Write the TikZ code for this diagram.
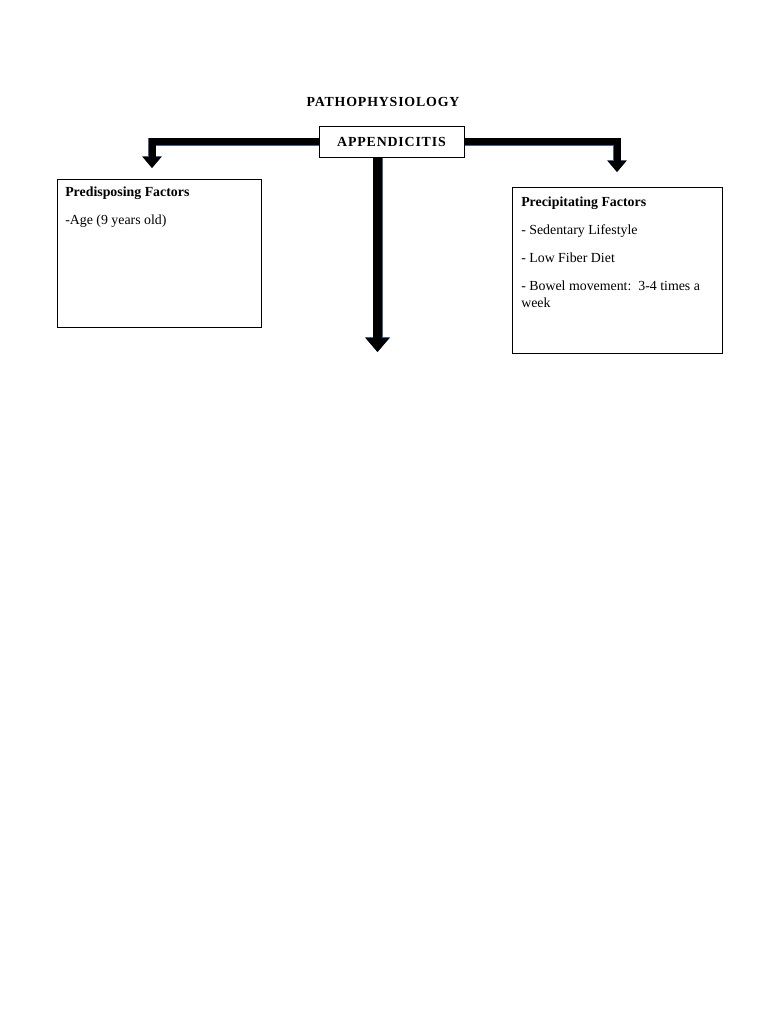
\documentclass[tikz,border=0pt]{standalone}
\usepackage{fontspec}
\setmainfont{Liberation Serif}
\newfontfamily\spacedfont[LetterSpace=6]{Liberation Serif}
\usetikzlibrary{arrows.meta}
\definecolor{edgeblue}{RGB}{70,100,140}

\begin{document}
\begin{tikzpicture}[
x=0.75pt, y=-0.75pt,
font=\fontsize{10.4}{12.75}\selectfont,
title/.style={font=\fontsize{10.4}{12.75}\selectfont\spacedfont\bfseries},
mainbox/.style={draw, line width=0.75pt, rectangle,
minimum width=108.75pt, minimum height=23.25pt, inner sep=0pt,
font=\fontsize{10.4}{12.75}\selectfont\spacedfont\bfseries},
factorbox/.style={draw, line width=0.75pt, rectangle, anchor=north west, inner sep=0pt},
factortext/.style={anchor=north west, inner sep=0pt, align=left},
sidearrow/.style={line width=5.25pt,
-{Triangle[width=14pt, length=8.25pt, line width=0pt]},
preaction={draw=edgeblue, line width=6pt,
-{Triangle[width=15pt, length=9pt, line width=0pt]}}},
downarrow/.style={line width=6.75pt,
-{Triangle[width=18pt, length=10.5pt, line width=0pt]},
preaction={draw=edgeblue, line width=7.5pt,
-{Triangle[width=19pt, length=11.25pt, line width=0pt]}}}
]

\fill[white] (0,0) rectangle (768,1024);
\useasboundingbox (0,0) rectangle (768,1024);

\node[title] (heading) at (383,102) {PATHOPHYSIOLOGY};
\node[mainbox] (appx) at (391.5,141.5) {APPENDICITIS};

% left box
\node[factorbox, minimum width=153pt, minimum height=111pt] (pre) at (57,179) {};
\node[factortext] (pretext) at (65,186.5) {\textbf{Predisposing Factors}\\[8.25pt]
-Age (9 years old)};

% right box
\node[factorbox, minimum width=157.5pt, minimum height=124.5pt] (prec) at (512,187) {};
\node[factortext] (prectext) at (521,196.5) {\textbf{Precipitating Factors}\\[8.25pt]
- Sedentary Lifestyle\\[8.25pt]
- Low Fiber Diet\\[8.25pt]
- Bowel movement:\ \ 3-4 times a\\
week};

% arrow ends
\coordinate (pretip) at (152,168);
\coordinate (prectip) at (617,172);
\coordinate (maintip) at (377.5,352);

\draw[sidearrow] (appx.west) -| (pretip);
\draw[sidearrow] (appx.east) -| (prectip);
\draw[downarrow] (appx.south -| maintip) -- (maintip);

\end{tikzpicture}
\end{document}
